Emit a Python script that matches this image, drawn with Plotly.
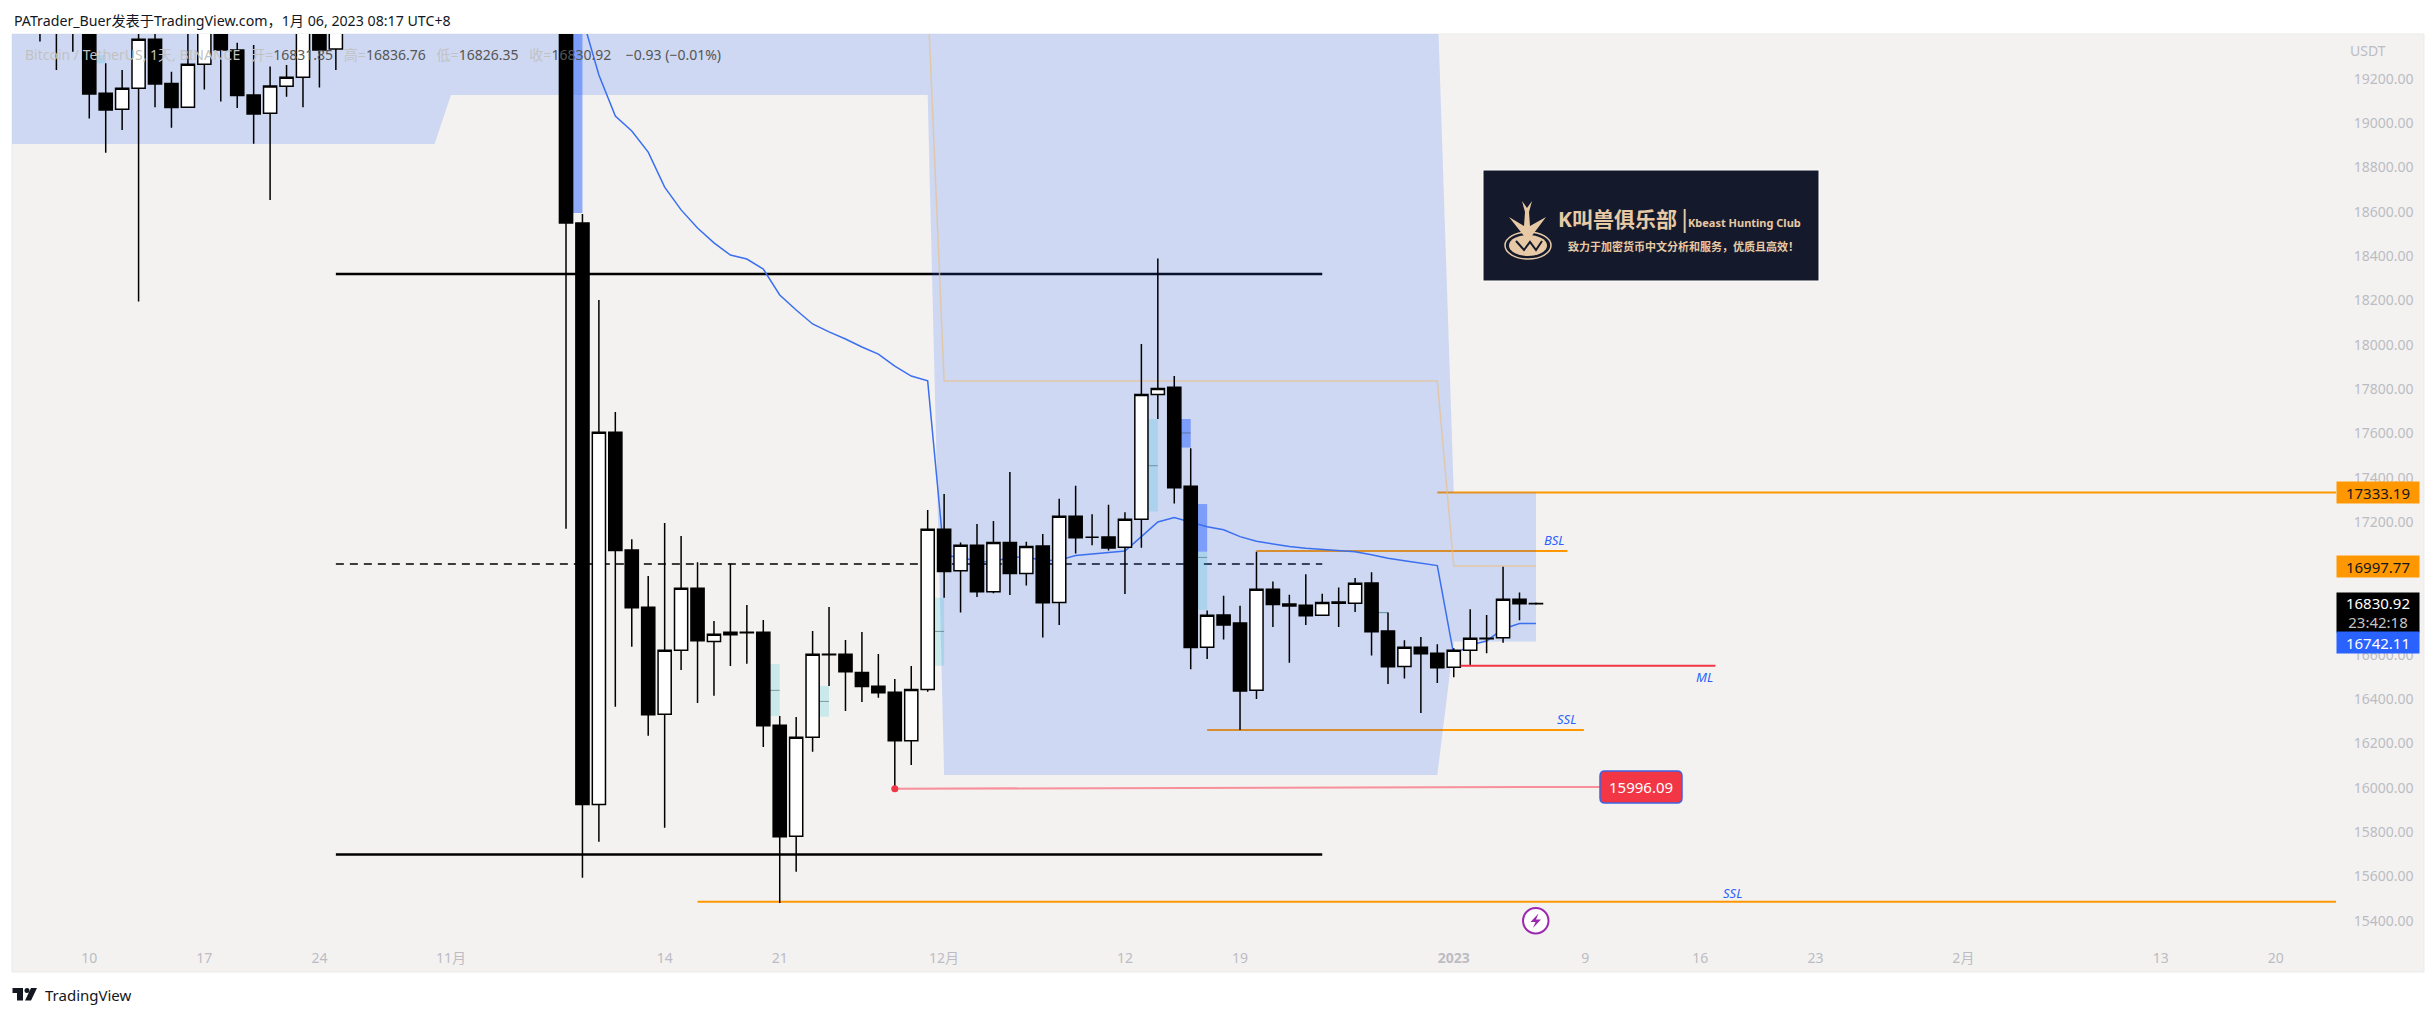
import pandas as pd
import plotly.graph_objects as go

# page geometry, used only for the furniture around the chart
WIDTH, HEIGHT = 2436, 1016
LEFT, RIGHT, TOP, BOTTOM = 12, 2336, 34, 938
FONT = "Noto Sans, Noto Sans CJK SC"
PANEL = "#f3f2f0"
BLUE = "#2962ff"
ORANGE = "#ff9800"
RED = "#f23645"
TAN = "#e8c9a5"

x_range = ["2022-10-05 07:12", "2023-02-23 16:00"]
y_range = [15322, 19403]

candle_dates = list(pd.date_range("2022-10-07", "2022-10-25")) + list(pd.date_range("2022-11-08", "2023-01-06"))

opens = [
    20160, 19955, 19531, 19417, 19135, 19063, 19158, 19379, 19180, 19072, 19266, 19550, 19331, 19128, 19045, 19167, 19208, 19570, 19335,
    20590, 18550, 15925, 17605, 17074, 16815, 16332, 16621, 16901, 16661, 16691, 16702, 16702, 16282, 15781, 16228, 16603, 16603, 16521, 16458, 16431, 16213, 16444,
    17167, 16980, 17095, 16885, 17108, 16967, 17092, 16837, 17226, 17131, 17132, 17086, 17212, 17776, 17808, 17361, 16634, 16780, 16744, 16440, 16896, 16830, 16824, 16779, 16839, 16833, 16925, 16708, 16548, 16634, 16607,
    16544, 16621, 16675, 16678, 16851, 16831.85,
]
highs = [
    20170, 20050, 19560, 19525, 19271, 19241, 19500, 19950, 19233, 19420, 19680, 19700, 19364, 19353, 19256, 19263, 19600, 19610, 20400,
    20660, 18590, 18202, 17697, 17122, 16956, 17195, 17137, 17018, 16753, 17013, 16825, 16758, 16324, 16320, 16708, 16816, 16667, 16703, 16604, 16491, 16550, 17254,
    17326, 17108, 17191, 17204, 17426, 17111, 17146, 17305, 17364, 17235, 17278, 17244, 18004, 18390, 17859, 17533, 16800, 16867, 16822, 17066, 16931, 16872, 16964, 16876, 16904, 16947, 16973, 16791, 16666, 16681, 16648,
    16630, 16806, 16780, 16998, 16882, 16836.76,
]
lows = [
    19369, 19241, 19323, 19022, 18867, 18970, 18195, 19072, 18980, 19070, 19153, 19098, 19069, 18907, 18654, 19120, 19072, 19161, 19241,
    17170, 15594, 15757, 16366, 16637, 16235, 15820, 16532, 16383, 16416, 16550, 16560, 16184, 15480, 15621, 16163, 16460, 16347, 16387, 16407, 15996.09, 16103, 16434,
    16858, 16791, 16861, 16878, 16870, 16913, 16679, 16735, 17058, 17095, 17071, 16875, 17084, 17665, 17284, 16535, 16581, 16669, 16261, 16401, 16726, 16565, 16735, 16779, 16726, 16794, 16597, 16469, 16493, 16338, 16473,
    16499, 16551, 16607, 16655, 16757, 16826.35,
]
closes = [
    19955, 19531, 19417, 19132, 19060, 19158, 19379, 19177, 19071, 19266, 19550, 19331, 19125, 19042, 19168, 19208, 19570, 19331, 20090,
    18550, 15925, 17605, 17071, 16813, 16330, 16621, 16901, 16664, 16693, 16702, 16700, 16280, 15779, 16228, 16603, 16601, 16524, 16457, 16429, 16213, 16444, 17167,
    16976, 17095, 16885, 17107, 16967, 17089, 16836, 17226, 17129, 17131, 17083, 17212, 17776, 17803, 17355, 16633, 16779, 16735, 16437, 16896, 16827, 16821, 16777, 16837, 16833, 16923, 16705, 16547, 16634, 16605, 16542,
    16621, 16675, 16673, 16851, 16831, 16830.92,
]

ma_dates = pd.date_range("2022-11-09", "2023-01-06")
ma_values = [
    19475, 19218, 19033, 18965, 18870, 18712, 18609, 18527, 18460, 18405, 18387, 18342, 18225, 18157, 18094, 18058, 18026, 17990, 17958, 17904, 17859, 17837,
    17046, 17043, 17021, 17022, 17040, 17043, 17025, 17028, 17049, 17056, 17062, 17069, 17134, 17200, 17220, 17200, 17179, 17165, 17134, 17113, 17101, 17089, 17081, 17075, 17069, 17066, 17052, 17036, 17025, 17013, 17003,
    16600, 16645, 16663, 16717, 16742.11, 16742.11,
]

zone_low_dates = ["2022-10-01", "2022-10-31", "2022-11-01", "2022-11-30", "2022-12-01", "2022-12-31", "2023-01-01", "2023-01-06"]
zone_low = [18906, 18906, 19128, 19128, 16058, 16058, 16660, 16660]
zone_high_dates = ["2022-10-01", "2022-12-31", "2023-01-01", "2023-01-06"]
zone_high = [19570, 19570, 17333.19, 17333.19]

tan_dates = ["2022-11-30", "2022-12-01", "2022-12-31", "2023-01-01", "2023-01-06"]
tan_values = [19570, 17837, 17837, 17001, 17001]

# imbalance boxes: start, end, low, high, middle
light_boxes = [
    ("2022-10-10 10:00", "2022-10-11", 19271, 19308, None),
    ("2022-11-20 10:00", "2022-11-21", 16324, 16559, 16440),
    ("2022-11-23 10:00", "2022-11-24", 16321, 16460, 16390),
    ("2022-11-30 10:00", "2022-12-01", 16551, 16858, 16706),
    ("2022-12-13 10:00", "2022-12-14", 17247, 17665, 17454),
    ("2022-12-16 10:00", "2022-12-17", 16803, 17065, 17040),
    ("2022-12-27 10:00", "2022-12-28", 16787, 16795, 16791),
]
dark_boxes = [
    ("2022-11-08 10:00", "2022-11-09", 18595, 19570, None),
    ("2022-12-15 10:00", "2022-12-16", 17536, 17665, 17602),
    ("2022-12-16 10:00", "2022-12-17", 17066, 17281, None),
]

# (start, end, price)
orange_lines = [
    ("2022-12-31", x_range[1], 17333.19),
    ("2022-12-20", "2023-01-07 22:00", 17069),
    ("2022-12-17", "2023-01-08 22:00", 16261),
    ("2022-11-16", x_range[1], 15486),
]
black_lines = [("2022-10-25", "2022-12-24", 18320), ("2022-10-25", "2022-12-24", 15699)]
dashed_line = ("2022-10-25", "2022-12-24", 17010)
ml_line = ("2023-01-01 10:00", "2023-01-16 22:00", 16551)
low_line_dates = ["2022-11-28", "2023-01-10"]
low_line_values = [15996.09, 16004]

# 17000 and 16800 sit fully under the price tags in the reference
y_ticks = [v for v in range(15400, 19201, 200) if v not in (17000, 16800)]
x_tick_dates = ["2022-10-10", "2022-10-17", "2022-10-24", "2022-11-01", "2022-11-14", "2022-11-21", "2022-12-01", "2022-12-12",
                "2022-12-19", "2023-01-01", "2023-01-09", "2023-01-16", "2023-01-23", "2023-02-01", "2023-02-13", "2023-02-20"]
x_tick_labels = ["10", "17", "24", "11月", "14", "21", "12月", "12", "19", "<b>2023</b>", "9", "16", "23", "2月", "13", "20"]

price_tags = [
    ("17333.19", 492.5, 21, ORANGE, "#131722"),
    ("16997.77", 566.5, 21, ORANGE, "#131722"),
    ("16830.92<br><span style='color:#c4c4c4'>23:42:18</span>", 612.5, 39, "#000000", "#ffffff"),
    ("16742.11", 642.5, 21, BLUE, "#ffffff"),
]
line_tags = [("BSL", 1554, 540), ("ML", 1704, 677), ("SSL", 1566, 719), ("SSL", 1732, 893)]


def px(x):
    return (x - LEFT) / (RIGHT - LEFT)


def py(y):
    return (BOTTOM - y) / (BOTTOM - TOP)


def poly(points):
    return "M " + " L ".join(f"{px(x)},{py(y)}" for x, y in points) + " Z"


def rounded(x0, y0, x1, y1, r):
    return (f"M {px(x0 + r)},{py(y0)} L {px(x1 - r)},{py(y0)} Q {px(x1)},{py(y0)} {px(x1)},{py(y0 + r)} "
            f"L {px(x1)},{py(y1 - r)} Q {px(x1)},{py(y1)} {px(x1 - r)},{py(y1)} L {px(x0 + r)},{py(y1)} "
            f"Q {px(x0)},{py(y1)} {px(x0)},{py(y1 - r)} L {px(x0)},{py(y0 + r)} Q {px(x0)},{py(y0)} {px(x0 + r)},{py(y0)} Z")


def note(text, x, y, size=14, color="#131722", anchor="left", **kwargs):
    return dict(text=text, x=px(x), y=py(y), xref="paper", yref="paper", xanchor=anchor, yanchor="middle",
                showarrow=False, font=dict(family=FONT, size=size, color=color), **kwargs)


def box_trace(box, fill):
    start, end, low, high, _ = box
    return go.Scatter(x=[start, end, end, start, start], y=[low, low, high, high, low], mode="lines",
                      fill="toself", fillcolor=fill, line=dict(width=0), hoverinfo="skip")


def level_trace(start, end, price, color, width, dash="solid"):
    return go.Scatter(x=[start, end], y=[price, price], mode="lines", line=dict(color=color, width=width, dash=dash), hoverinfo="skip")


fig = go.Figure()

# bottom layer: levels that the zone tints
for start, end, price in orange_lines:
    fig.add_trace(level_trace(start, end, price, ORANGE, 2))
for start, end, price in black_lines:
    fig.add_trace(level_trace(start, end, price, "#000000", 2.5))
fig.add_trace(level_trace(*dashed_line, "#000000", 1.5, "8px,6px"))

zone_x = zone_low_dates + zone_high_dates[::-1]
zone_y = zone_low + zone_high[::-1]
fig.add_trace(go.Scatter(x=zone_x, y=zone_y, mode="lines", fill="toself", fillcolor="rgba(41,98,255,0.18)",
                         line=dict(width=0), hoverinfo="skip"))

for box in light_boxes:
    fig.add_trace(box_trace(box, "rgba(0,188,212,0.17)"))
for box in dark_boxes:
    fig.add_trace(box_trace(box, "rgba(41,98,255,0.5)"))
for box in light_boxes + dark_boxes:
    if box[4] is not None:
        fig.add_trace(level_trace(box[0], box[1], box[4], "rgba(70,90,100,0.55)", 1))

fig.add_trace(go.Scatter(x=tan_dates, y=tan_values, mode="lines", line=dict(color="rgba(235,190,130,0.65)", width=1.5), hoverinfo="skip"))
fig.add_trace(go.Scatter(x=ma_dates, y=ma_values, mode="lines", line=dict(color="#3a6ff0", width=1.5), hoverinfo="skip"))

# candles go on an overlaid subplot so they sit above every scatter trace
fig.add_trace(go.Candlestick(
    x=candle_dates, open=opens, high=highs, low=lows, close=closes,
    xaxis="x2", yaxis="y2", whiskerwidth=0, hoverinfo="skip",
    increasing=dict(line=dict(color="#000000", width=1.5), fillcolor="#ffffff"),
    decreasing=dict(line=dict(color="#000000", width=1.5), fillcolor="#000000"),
))
fig.add_trace(go.Scatter(x=[ml_line[0], ml_line[1]], y=[ml_line[2], ml_line[2]], mode="lines",
                         line=dict(color=RED, width=2), xaxis="x2", yaxis="y2", hoverinfo="skip"))
fig.add_trace(go.Scatter(x=low_line_dates, y=low_line_values, mode="lines",
                         line=dict(color="#f7909a", width=2), xaxis="x2", yaxis="y2", hoverinfo="skip"))
fig.add_trace(go.Scatter(x=low_line_dates[:1], y=low_line_values[:1], mode="markers",
                         marker=dict(color=RED, size=7), xaxis="x2", yaxis="y2", hoverinfo="skip"))

shapes = [
    dict(type="rect", xref="paper", yref="paper", x0=px(12), x1=px(2424), y0=py(972), y1=py(34), layer="below",
         fillcolor=PANEL, line=dict(color="#ebebeb", width=1)),
    # banner
    dict(type="rect", xref="paper", yref="paper", x0=px(1483), x1=px(1819), y0=py(281), y1=py(170),
         fillcolor="#141a2b", line=dict(color="#ffffff", width=1)),
    dict(type="path", xref="paper", yref="paper", line=dict(width=0), fillcolor=TAN,
         path=poly([(1509, 217), (1524, 226), (1525, 212), (1522, 201), (1527, 208), (1532, 201), (1529, 212), (1530, 226), (1546, 217), (1528, 241)])),
    dict(type="circle", xref="paper", yref="paper", x0=px(1505), x1=px(1551), y0=py(259), y1=py(232), fillcolor="rgba(0,0,0,0)", line=dict(color=TAN, width=1.5)),
    dict(type="circle", xref="paper", yref="paper", x0=px(1509), x1=px(1547), y0=py(256), y1=py(235), fillcolor=TAN, line=dict(width=0)),
    dict(type="path", xref="paper", yref="paper", line=dict(color="#141a2b", width=2), fillcolor="rgba(0,0,0,0)",
         path=f"M {px(1516)},{py(241)} L {px(1524)},{py(250)} L {px(1530)},{py(242)} L {px(1536)},{py(250)} L {px(1542)},{py(241)}"),
    # label next to the low
    dict(type="path", xref="paper", yref="paper", path=rounded(1600, 771, 1682, 803, 5), fillcolor=RED, line=dict(color="#3f63e0", width=1.5)),
    # event icon on the time axis
    dict(type="circle", xref="paper", yref="paper", x0=px(1523), x1=px(1548.5), y0=py(933.5), y1=py(908), fillcolor="#ffffff", line=dict(color="#9c27b0", width=2)),
    dict(type="path", xref="paper", yref="paper", line=dict(width=0), fillcolor="#9c27b0",
         path=poly([(1538.5, 913.5), (1530.5, 922), (1535.5, 922), (1533, 928), (1541, 919.5), (1536, 919.5)])),
    # TradingView mark
    dict(type="path", xref="paper", yref="paper", line=dict(width=0), fillcolor="#131722",
         path=poly([(12.5, 988), (23, 988), (23, 1000.5), (17, 1000.5), (17, 993), (12.5, 993)])),
    dict(type="circle", xref="paper", yref="paper", x0=px(24.5), x1=px(29.5), y0=py(993), y1=py(988), fillcolor="#131722", line=dict(width=0)),
    dict(type="path", xref="paper", yref="paper", line=dict(width=0), fillcolor="#131722",
         path=poly([(31, 988), (37, 988), (31, 1000.5), (25, 1000.5)])),
]

gap = "&nbsp;&nbsp;&nbsp;"
annotations = [
    note("PATrader_Buer发表于TradingView.com，1月 06, 2023 08:17 UTC+8", 12, 20, 14.2),
    note(f"<span style='color:#c2c2c2'>Bitcoin / TetherUS, 1天, BINANCE{gap}开=</span><span style='color:#555555'>16831.85</span>"
         f"<span style='color:#c2c2c2'>{gap}高=</span><span style='color:#555555'>16836.76</span>"
         f"<span style='color:#c2c2c2'>{gap}低=</span><span style='color:#555555'>16826.35</span>"
         f"<span style='color:#c2c2c2'>{gap}收=</span><span style='color:#555555'>16830.92{gap}&nbsp;−0.93 (−0.01%)</span>", 23, 54, 14),
    note("USDT", 2348, 51, 14, "#bcbcc4"),
    note("TradingView", 43, 995, 15),
    note("<b>K叫兽俱乐部</b>", 1556, 219, 21, TAN),
    note("|", 1676, 218, 24, TAN),
    note("<b>Kbeast Hunting Club</b>", 1686, 222, 11, TAN),
    note("<b>致力于加密货币中文分析和服务，优质且高效！</b>", 1566, 246, 11, TAN),
    note("15996.09", 1641, 787, 15, "#ffffff", anchor="center"),
]
for text, y, height, bg, color in price_tags:
    annotations.append(note(text, 2336, y, 15, color, width=82, height=height, bgcolor=bg, borderpad=0, align="center"))
for text, x, y in line_tags:
    annotations.append(note(f"<i>{text}</i>", x, y, 13, BLUE, anchor="center"))

fig.update_layout(
    width=WIDTH, height=HEIGHT,
    margin=dict(l=LEFT, r=WIDTH - RIGHT, t=TOP, b=HEIGHT - BOTTOM, pad=0, autoexpand=False),
    paper_bgcolor="#ffffff", plot_bgcolor="rgba(0,0,0,0)",
    showlegend=False, boxgap=0.2, boxgroupgap=0, boxmode="overlay",
    shapes=shapes, annotations=annotations,
    xaxis=dict(type="date", range=x_range, tickmode="array", tickvals=x_tick_dates, ticktext=x_tick_labels,
               showgrid=False, zeroline=False, showline=False, ticks="outside", ticklen=7, tickcolor="rgba(0,0,0,0)",
               tickfont=dict(family=FONT, size=14, color="#bcbcc4"), rangeslider=dict(visible=False)),
    yaxis=dict(range=y_range, side="right", tickmode="array", tickvals=y_ticks, ticktext=[f"{v}.00" for v in y_ticks],
               showgrid=False, zeroline=False, showline=False, ticks="outside", ticklen=14, tickcolor="rgba(0,0,0,0)",
               tickfont=dict(family=FONT, size=14, color="#bcbcc4")),
    xaxis2=dict(type="date", range=x_range, overlaying="x", anchor="y2", visible=False, rangeslider=dict(visible=False)),
    yaxis2=dict(range=y_range, overlaying="y", anchor="x2", side="right", visible=False),
)

# the default body margin would push the whole figure 8px down and right
fig.write_html("out.html", config={"displayModeBar": False}, post_script="document.body.style.margin='0';")
